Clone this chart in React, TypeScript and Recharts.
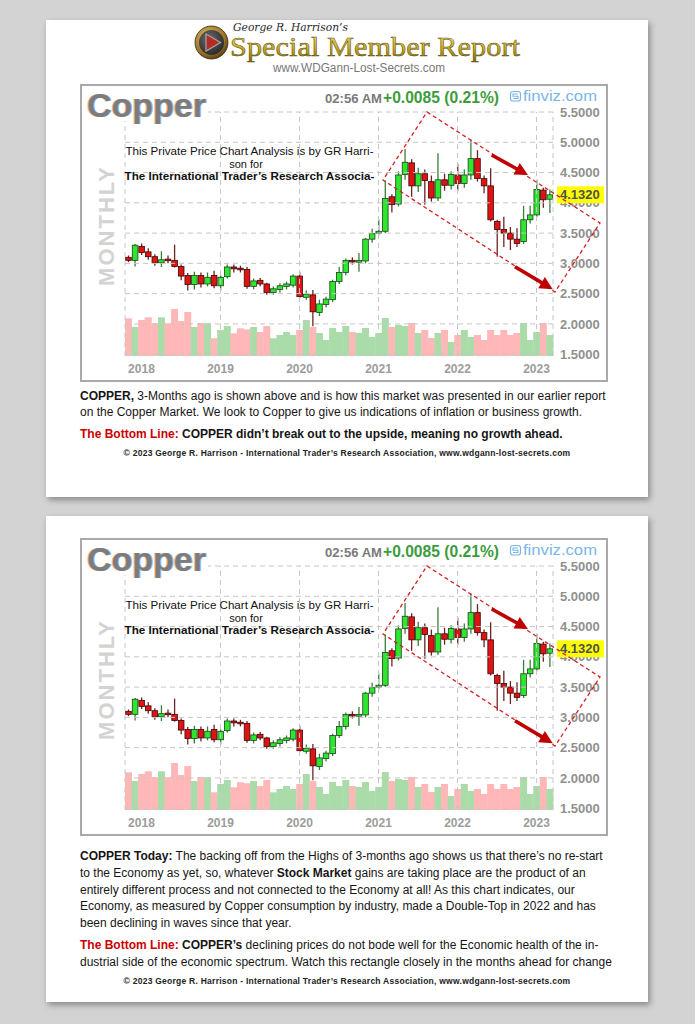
import React from "react";
import { ComposedChart, Bar, XAxis, YAxis, ReferenceLine, Cell } from "recharts";

const FONT = "'Liberation Sans', Arial, Helvetica, sans-serif";

// monthly candles, Nov 2017 .. Mar 2023
const months = [
  "2017-11", "2017-12",
  "2018-01", "2018-02", "2018-03", "2018-04", "2018-05", "2018-06", "2018-07", "2018-08", "2018-09", "2018-10", "2018-11", "2018-12",
  "2019-01", "2019-02", "2019-03", "2019-04", "2019-05", "2019-06", "2019-07", "2019-08", "2019-09", "2019-10", "2019-11", "2019-12",
  "2020-01", "2020-02", "2020-03", "2020-04", "2020-05", "2020-06", "2020-07", "2020-08", "2020-09", "2020-10", "2020-11", "2020-12",
  "2021-01", "2021-02", "2021-03", "2021-04", "2021-05", "2021-06", "2021-07", "2021-08", "2021-09", "2021-10", "2021-11", "2021-12",
  "2022-01", "2022-02", "2022-03", "2022-04", "2022-05", "2022-06", "2022-07", "2022-08", "2022-09", "2022-10", "2022-11", "2022-12",
  "2023-01", "2023-02", "2023-03",
];

const opens = [
  3.10, 3.05, 3.28, 3.19, 3.11, 3.01, 3.07, 3.05, 2.95, 2.80, 2.65, 2.80, 2.66, 2.80,
  2.63, 2.78, 2.94, 2.92, 2.90, 2.62, 2.72, 2.66, 2.52, 2.57, 2.62, 2.64,
  2.79, 2.44, 2.48, 2.19, 2.32, 2.40, 2.70, 2.85, 3.05, 3.02, 3.04, 3.40,
  3.50, 3.53, 4.10, 3.98, 4.47, 4.66, 4.28, 4.48, 4.35, 4.08, 4.38, 4.29,
  4.46, 4.32, 4.46, 4.73, 4.40, 4.28, 3.69, 3.56, 3.50, 3.40, 3.36, 3.72,
  3.80, 4.21, 4.06,
];
const highs = [
  3.13, 3.32, 3.33, 3.25, 3.15, 3.20, 3.13, 3.31, 2.98, 2.84, 2.86, 2.85, 2.85, 2.88,
  2.80, 2.98, 2.98, 2.96, 2.94, 2.75, 2.76, 2.68, 2.62, 2.67, 2.70, 2.82,
  2.86, 2.55, 2.56, 2.40, 2.45, 2.73, 2.94, 3.08, 3.10, 3.17, 3.42, 3.57,
  3.73, 4.37, 4.14, 4.52, 4.89, 4.72, 4.58, 4.55, 4.45, 4.82, 4.48, 4.52,
  4.64, 4.55, 5.04, 4.87, 4.45, 4.57, 3.72, 3.77, 3.60, 3.58, 3.95, 3.95,
  4.38, 4.25, 4.22,
];
const lows = [
  3.02, 2.95, 3.14, 3.06, 2.96, 2.94, 3.00, 2.93, 2.72, 2.55, 2.57, 2.60, 2.62, 2.59,
  2.55, 2.75, 2.85, 2.85, 2.58, 2.57, 2.62, 2.48, 2.48, 2.52, 2.57, 2.60,
  2.43, 2.40, 1.96, 2.13, 2.27, 2.36, 2.66, 2.80, 2.98, 2.86, 3.00, 3.34,
  3.46, 3.50, 3.84, 3.94, 4.38, 4.10, 4.18, 3.97, 4.02, 4.03, 4.20, 4.22,
  4.20, 4.25, 4.38, 4.35, 4.16, 3.69, 3.11, 3.27, 3.22, 3.27, 3.32, 3.66,
  3.76, 3.92, 3.83,
];
const closes = [
  3.05, 3.30, 3.18, 3.11, 3.01, 3.06, 3.05, 2.95, 2.79, 2.65, 2.80, 2.66, 2.77, 2.63,
  2.77, 2.94, 2.91, 2.90, 2.62, 2.71, 2.66, 2.52, 2.58, 2.63, 2.66, 2.79,
  2.45, 2.49, 2.20, 2.33, 2.41, 2.70, 2.85, 3.05, 3.03, 3.05, 3.40, 3.49,
  3.53, 4.07, 3.97, 4.46, 4.67, 4.28, 4.48, 4.37, 4.08, 4.38, 4.29, 4.47,
  4.32, 4.46, 4.73, 4.40, 4.28, 3.72, 3.56, 3.50, 3.40, 3.33, 3.72, 3.80,
  4.22, 4.05, 4.132,
];
// volume, thousand lots
const volumes = [
  377, 290, 360, 387, 327, 387, 327, 470, 350, 440, 290, 330, 327, 177,
  260, 300, 227, 277, 267, 290, 240, 300, 177, 210, 240, 210,
  260, 360, 290, 230, 160, 280, 240, 300, 240, 230, 280, 190,
  230, 380, 290, 310, 300, 330, 230, 260, 180, 230, 260, 140,
  210, 260, 190, 210, 160, 260, 210, 260, 210, 230, 330, 160,
  240, 330, 210,
];

const yearTicks = ["2018-01", "2019-01", "2020-01", "2021-01", "2022-01", "2023-01"];
const gridYears = ["2019-01", "2020-01", "2021-01", "2022-01", "2023-01"];
const priceTicks = [1.5, 2, 2.5, 3, 3.5, 4, 4.5, 5, 5.5];
const lastPrice = 4.132;
const timeLabel = "02:56 AM";
const changeLabel = "+0.0085 (0.21%)";

const data = months.map((m, i) => ({ m, o: opens[i], h: highs[i], l: lows[i], c: closes[i], v: volumes[i] }));

const GRID = "#c6c6c6";
const VOL_UP = "#a9dca9";
const VOL_DN = "#ffb7b7";

function Candle(props: any) {
  const { x, y, width, height, payload } = props;
  if (!payload || !Number.isFinite(y) || !Number.isFinite(height)) return null;
  const top = Math.min(y, y + height);
  const span = Math.abs(height);
  const { o, h, l, c } = payload;
  const k = span / (h - l);
  const yO = top + (h - o) * k;
  const yC = top + (h - c) * k;
  const up = c >= o;
  const cx = x + width / 2;
  const bw = Math.max(width - 1.4, 2);
  const bTop = Math.min(yO, yC);
  const bH = Math.max(Math.abs(yO - yC), 1.6);
  return (
    <g>
      <line x1={cx} x2={cx} y1={top} y2={top + span} stroke={up ? "#3b7d3b" : "#6e2323"} strokeWidth={1.3} />
      <rect x={cx - bw / 2} y={bTop} width={bw} height={bH} fill={up ? "#2fe62f" : "#e01212"} stroke={up ? "#1c401c" : "#3a0808"} strokeWidth={0.8} />
    </g>
  );
}

function PriceTick(props: any) {
  const { x, y, payload } = props;
  const v = payload.value;
  if (v === lastPrice) {
    return (
      <g>
        <rect x={x - 3} y={y - 8.5} width={47} height={17} fill="#ffff00" />
        <text x={x} y={y} dy={4.6} fontSize={13} fontWeight={700} fill="#505050" fontFamily={FONT}>{v.toFixed(4)}</text>
      </g>
    );
  }
  return (
    <text x={x} y={y} dy={4.6} fontSize={13} fontWeight={700} fill="#8f8f8f" fontFamily={FONT}>{v.toFixed(4)}</text>
  );
}

function Arrow({ x1, y1, x2, y2 }: { x1: number; y1: number; x2: number; y2: number }) {
  const dx = x2 - x1;
  const dy = y2 - y1;
  const len = Math.hypot(dx, dy);
  const ux = dx / len;
  const uy = dy / len;
  const head = 13;
  const hw = 6.5;
  const bx = x2 - ux * head;
  const by = y2 - uy * head;
  return (
    <g>
      <line x1={x1} y1={y1} x2={bx + ux} y2={by + uy} stroke="#c00000" strokeWidth={3.6} />
      <polygon points={`${x2},${y2} ${bx - uy * hw},${by + ux * hw} ${bx + uy * hw},${by - ux * hw}`} fill="#c00000" />
    </g>
  );
}

function Overlay() {
  return (
    <svg width={528} height={298} style={{ position: "absolute", left: -2, top: -2, pointerEvents: "none" }}>
      <rect x={5} y={4} width={123} height={33} fill="#fff" />
      <text x={6} y={33} fontFamily={FONT} fontWeight={700} fontSize={34} fill="#e2a060" opacity={0.7}>Copper</text>
      <text x={8} y={33} fontFamily={FONT} fontWeight={700} fontSize={34} fill="#6aa0e0" opacity={0.7}>Copper</text>
      <text x={7} y={33} fontFamily={FONT} fontWeight={700} fontSize={34} fill="#7c7c7c">Copper</text>
      <text
        x={26.5}
        y={141.5}
        transform="rotate(-90 26.5 141.5)"
        textAnchor="middle"
        dominantBaseline="central"
        fontFamily={FONT}
        fontWeight={700}
        fontSize={22}
        letterSpacing={2}
        fill="#d3d3d3"
      >
        MONTHLY
      </text>
      <text x={245} y={19} fontFamily={FONT} fontWeight={700} fontSize={12.5} fill="#7a7a7a" textLength={57} lengthAdjust="spacingAndGlyphs">{timeLabel}</text>
      <text x={303} y={19} fontFamily={FONT} fontWeight={700} fontSize={16} fill="#3c9c3c" textLength={116} lengthAdjust="spacingAndGlyphs">{changeLabel}</text>
      <rect x={430.5} y={7.5} width={10} height={9.5} rx={2.5} fill="none" stroke="#7ab6e8" strokeWidth={1.2} />
      <path d="M438 10 L433 10 L433 12.2 L438 12.2 L438 14.5 L433 14.5" fill="none" stroke="#7ab6e8" strokeWidth={1.1} />
      <text x={443} y={17} fontFamily={FONT} fontSize={15} fill="#7ab6e8" textLength={74} lengthAdjust="spacingAndGlyphs">finviz.com</text>
      <text x={169.5} y={71} textAnchor="middle" fontFamily={FONT} fontSize={11} fill="#111" textLength={248} lengthAdjust="spacingAndGlyphs">This Private Price Chart Analysis is by GR Harri-</text>
      <text x={166} y={83.5} textAnchor="middle" fontFamily={FONT} fontSize={11} fill="#111">son for</text>
      <text x={169.5} y={96} textAnchor="middle" fontFamily={FONT} fontSize={11} fontWeight={700} fill="#111" textLength={250} lengthAdjust="spacingAndGlyphs">The International Trader’s Research Associa-</text>
      <polygon points="347,28 520,139 475,208 303,96" fill="none" stroke="#d42020" strokeWidth={1.3} strokeDasharray="4 3" />
      <Arrow x1={411.7} y1={71} x2={448} y2={91} />
      <Arrow x1={435} y1={182.7} x2={472.7} y2={205.3} />
    </svg>
  );
}

function CopperChart({ top }: { top: number }) {
  return (
    <div
      style={{
        position: "absolute",
        left: 80,
        top,
        width: 528,
        height: 298,
        background: "#fff",
        border: "2px solid #a9a9a9",
        boxSizing: "border-box",
      }}
    >
      <div style={{ position: "absolute", left: -2, top: -2 }}>
        <ComposedChart width={528} height={298} data={data} margin={{ top: 28, right: 0, bottom: 0, left: 45 }} barCategoryGap={0} barGap={0}>
          <XAxis xAxisId="v" dataKey="m" hide />
          <XAxis
            xAxisId="p"
            dataKey="m"
            ticks={yearTicks}
            interval={0}
            tickFormatter={(m: string) => m.slice(0, 4)}
            tickLine={false}
            axisLine={false}
            height={26}
            tick={{ fontSize: 12, fontWeight: 700, fill: "#9c9c9c", fontFamily: FONT }}
          />
          <YAxis yAxisId="vol" domain={[0, 2440]} hide />
          <YAxis
            yAxisId="p"
            orientation="right"
            domain={[1.47, 5.5]}
            allowDataOverflow
            ticks={[...priceTicks, lastPrice]}
            interval={0}
            tick={<PriceTick />}
            tickLine={false}
            axisLine={false}
            tickSize={5}
            width={55}
          />
          {priceTicks.map((t) => (
            <ReferenceLine key={"h" + t} xAxisId="p" yAxisId="p" y={t} stroke={GRID} strokeDasharray="5 4" />
          ))}
          {gridYears.map((m) => (
            <ReferenceLine key={"v" + m} xAxisId="p" yAxisId="p" x={m} stroke={GRID} strokeDasharray="5 4" />
          ))}
          <ReferenceLine xAxisId="p" yAxisId="p" x={months[0]} position="start" stroke={GRID} strokeDasharray="5 4" />
          <ReferenceLine xAxisId="p" yAxisId="p" x={months[months.length - 1]} position="end" stroke={GRID} strokeDasharray="5 4" />
          <Bar xAxisId="v" yAxisId="vol" dataKey="v" isAnimationActive={false}>
            {data.map((d, i) => (
              <Cell key={i} fill={d.c >= d.o ? VOL_UP : VOL_DN} />
            ))}
          </Bar>
          <Bar xAxisId="p" yAxisId="p" dataKey={(d: any) => [d.l, d.h]} shape={Candle} isAnimationActive={false} />
        </ComposedChart>
      </div>
      <Overlay />
    </div>
  );
}

function Header() {
  return (
    <svg width={695} height={80} style={{ position: "absolute", left: 0, top: 0 }}>
      <defs>
        <linearGradient id="goldText" x1="0" y1="0" x2="0" y2="1">
          <stop offset="0" stopColor="#f0e27c" />
          <stop offset="0.55" stopColor="#c8ab2a" />
          <stop offset="1" stopColor="#7a660c" />
        </linearGradient>
        <radialGradient id="ringG" cx="0.4" cy="0.35" r="0.7">
          <stop offset="0" stopColor="#e0c070" />
          <stop offset="0.7" stopColor="#9a7428" />
          <stop offset="1" stopColor="#4d3810" />
        </radialGradient>
        <radialGradient id="coreG" cx="0.4" cy="0.35" r="0.8">
          <stop offset="0" stopColor="#6a6a6a" />
          <stop offset="1" stopColor="#1e1e1e" />
        </radialGradient>
      </defs>
      <circle cx={211.5} cy={42.5} r={16.5} fill="url(#ringG)" stroke="#3a2a08" strokeWidth={0.8} />
      <circle cx={211.5} cy={42.5} r={12.5} fill="url(#coreG)" />
      <path d="M206 34 L220.5 42.5 L206 51 Z" fill="#b52a22" stroke="#a0a0a0" strokeWidth={1.3} />
      <text x={233} y={30.5} fontFamily="'DejaVu Serif', serif" fontStyle="italic" fontSize={11} fill="#2a2a2a" textLength={115} lengthAdjust="spacingAndGlyphs">
        George R. Harrison’s
      </text>
      <text x={230} y={56} fontFamily="'Liberation Serif', 'Times New Roman', serif" fontSize={28} fill="url(#goldText)" stroke="#5c4c06" strokeWidth={0.5} textLength={290} lengthAdjust="spacingAndGlyphs">
        Special Member Report
      </text>
      <text x={273} y={72} fontFamily="'Liberation Sans Narrow', 'Liberation Sans', Arial, sans-serif" fontSize={12} fill="#777" textLength={172} lengthAdjust="spacingAndGlyphs">
        www.WDGann-Lost-Secrets.com
      </text>
    </svg>
  );
}

const lineStyle: React.CSSProperties = {
  position: "absolute",
  left: 80,
  fontFamily: FONT,
  fontSize: 12,
  lineHeight: "16px",
  color: "#151515",
  whiteSpace: "nowrap",
};
const red: React.CSSProperties = { color: "#cc0000", fontWeight: 700 };
const copyStyle: React.CSSProperties = {
  position: "absolute",
  left: 46,
  width: 602,
  textAlign: "center",
  fontFamily: FONT,
  fontSize: 8.5,
  lineHeight: "12px",
  fontWeight: 700,
  letterSpacing: 0.25,
  color: "#222",
  whiteSpace: "nowrap",
};
const COPYRIGHT = "© 2023 George R. Harrison - International Trader’s Research Association, www.wdgann-lost-secrets.com";

const panelStyle: React.CSSProperties = {
  position: "absolute",
  left: 46,
  width: 602,
  background: "#fff",
  boxShadow: "2px 3px 6px rgba(0,0,0,0.35)",
};

export default function App() {
  return (
    <div style={{ position: "absolute", left: 0, top: 0, width: 695, height: 1024, background: "#d3d3d3", overflow: "hidden" }}>
      <div style={{ ...panelStyle, top: 20, height: 477 }} />
      <div style={{ ...panelStyle, top: 516, height: 486 }} />
      <Header />
      <CopperChart top={84} />
      <div style={{ ...lineStyle, top: 387.5 }}>
        <b>COPPER,</b> 3-Months ago is shown above and is how this market was presented in our earlier report
      </div>
      <div style={{ ...lineStyle, top: 403.5 }}>
        on the Copper Market. We look to Copper to give us indications of inflation or business growth.
      </div>
      <div style={{ ...lineStyle, top: 425.5, fontWeight: 700 }}>
        <span style={red}>The Bottom Line:</span> COPPER didn’t break out to the upside, meaning no growth ahead.
      </div>
      <div style={{ ...copyStyle, top: 446.5 }}>{COPYRIGHT}</div>

      <CopperChart top={538} />
      <div style={{ ...lineStyle, top: 847.5 }}>
        <b>COPPER Today:</b> The backing off from the Highs of 3-months ago shows us that there’s no re-start
      </div>
      <div style={{ ...lineStyle, top: 864.5 }}>
        to the Economy as yet, so, whatever <b>Stock Market</b> gains are taking place are the product of an
      </div>
      <div style={{ ...lineStyle, top: 881.5 }}>
        entirely different process and not connected to the Economy at all! As this chart indicates, our
      </div>
      <div style={{ ...lineStyle, top: 897.5 }}>
        Economy, as measured by Copper consumption by industry, made a Double-Top in 2022 and has
      </div>
      <div style={{ ...lineStyle, top: 914.5 }}>been declining in waves since that year.</div>
      <div style={{ ...lineStyle, top: 936.5 }}>
        <span style={red}>The Bottom Line:</span> <b>COPPER’s</b> declining prices do not bode well for the Economic health of the in-
      </div>
      <div style={{ ...lineStyle, top: 953.5 }}>
        dustrial side of the economic spectrum. Watch this rectangle closely in the months ahead for change
      </div>
      <div style={{ ...copyStyle, top: 974.5 }}>{COPYRIGHT}</div>
    </div>
  );
}
